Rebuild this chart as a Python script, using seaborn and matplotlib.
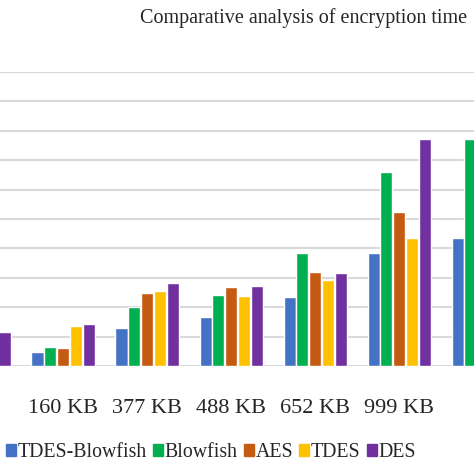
import matplotlib
matplotlib.use("Agg")
import matplotlib.pyplot as plt
import seaborn as sns
import pandas as pd

categories = ["47 KB", "160 KB", "377 KB", "488 KB", "652 KB", "999 KB", "1100 KB"]
tdes_blowfish = [0.5, 0.47, 1.28, 1.66, 2.36, 3.83, 4.34]
blowfish = [0.7, 0.66, 2.02, 2.41, 3.83, 6.59, 7.72]
aes = [0.8, 0.60, 2.47, 2.70, 3.19, 5.25, 6.0]
tdes = [1.0, 1.37, 2.55, 2.39, 2.93, 4.34, 5.0]
des = [1.17, 1.42, 2.81, 2.73, 3.17, 7.72, 8.5]
series_names = ["TDES-Blowfish", "Blowfish", "AES", "TDES", "DES"]
colors = ["#4472C4", "#00B050", "#C55A11", "#FFC000", "#7030A0"]

rows = []
for name, vals in zip(series_names, [tdes_blowfish, blowfish, aes, tdes, des]):
    for c, v in zip(categories, vals):
        rows.append({"Size": c, "Algorithm": name, "Time": v})
df = pd.DataFrame(rows)

sns.set_style("white")
plt.rcParams["font.family"] = ["Liberation Serif", "DejaVu Serif"]

fig = plt.figure(figsize=(4.74, 4.74), dpi=100)
ax = fig.add_axes([0, 0.228, 1, 0.62])
sns.barplot(data=df, x="Size", y="Time", hue="Algorithm", order=categories,
            hue_order=series_names, palette=colors, width=0.76, gap=0.05,
            ax=ax, legend=False, saturation=1)
ax.set_xlim(0.25, 5.89)
ax.set_ylim(0, 10)
ax.set_yticks(range(0, 11))
ax.yaxis.grid(True, color="#d9d9d9", linewidth=1.5)
ax.set_axisbelow(True)
ax.tick_params(axis="y", left=False, labelleft=False)
ax.tick_params(axis="x", bottom=False, labelsize=16, pad=20)
ax.set_xlabel("")
ax.set_ylabel("")
for s in ax.spines.values():
    s.set_visible(False)

fig.text(0.295, 0.962, "Comparative analysis of encryption time", fontsize=14.5,
         ha="left", va="center")

from matplotlib.patches import Patch
handles = [Patch(color=c) for c in colors]
fig.legend(handles, series_names, loc="center left", bbox_to_anchor=(-0.005, 0.045),
           ncol=5, frameon=False, fontsize=14.3, handlelength=0.5, handleheight=0.5,
           handletextpad=0.1, columnspacing=0.3, borderaxespad=0)

fig.savefig("out.png", dpi=100)
